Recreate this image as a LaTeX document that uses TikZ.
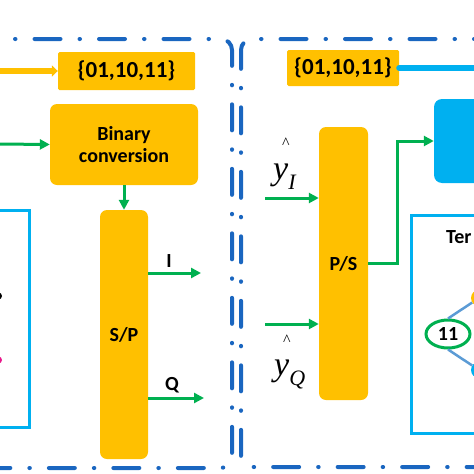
\documentclass[tikz,border=0pt]{standalone}
\usepackage{fontspec}
\setmainfont{Carlito}
\newfontfamily\tnr{Liberation Serif}
\usetikzlibrary{arrows.meta,shapes.geometric}
\definecolor{orng}{HTML}{FFC000}
\definecolor{grn}{HTML}{00B050}
\definecolor{cyn}{HTML}{00B0F0}
\definecolor{dblue}{HTML}{1A66C0}
\definecolor{steel}{HTML}{5B9BD5}
\definecolor{mag}{HTML}{E8178A}
\begin{document}
\begin{tikzpicture}[x=1pt,y=-1pt,
  frame/.style={draw=dblue, line width=4pt, line cap=round, rounded corners=11pt,
    dash pattern=on 26pt off 19pt on 0.5pt off 19pt},
  obox/.style={fill=orng, rounded corners=7pt, inner sep=0pt,
    font=\bfseries\fontsize{20}{23}\selectfont},
  setbox/.style={fill=orng, rounded corners=1.5pt, inner sep=0pt,
    font=\bfseries\fontsize{23}{26}\selectfont},
  garrow/.style={draw=grn, line width=3pt, -{Triangle[length=10pt,width=10pt]}},
  lbl/.style={font=\bfseries\fontsize{20}{23}\selectfont, inner sep=0pt},
  yhat/.style={font=\tnr\itshape\fontsize{34}{34}\selectfont, inner sep=0pt,
    text height=15pt, text depth=8pt},
  caret/.style={font=\tnr\fontsize{16}{16}\selectfont, inner sep=0pt},
  cframe/.style={draw=cyn, line width=3pt},
  tline/.style={draw=steel, line width=2.5pt}
]
\useasboundingbox (0,0) rectangle (474,474);
\clip (0,0) rectangle (474,474);

% dash-dot frames
\draw[frame] (-30,39) -- (232,39) -- (232,468) -- (-30,468);
\draw[frame] (500,39) -- (241,39) -- (241,467) -- (500,467);

% left side
\node[setbox, minimum width=137pt, minimum height=38pt] (setL) at (126.5,71) {\{01,10,11\}};
\node[obox, minimum width=148pt, minimum height=81pt, align=center] (bin) at (124,144.5) {Binary\\[-1pt]conversion};
\node[obox, minimum width=48pt, minimum height=249pt] (sp) at (124,334.5) {S/P};

\coordinate (oin) at (-2,71);
\draw[draw=orng, line width=6pt, -{Triangle[length=6pt,width=11pt]}] (oin) -- (setL.west);
\coordinate (gin) at (-2,144);
\draw[garrow] (gin) -- (bin.west);
\draw[garrow] (bin.south) -- (sp.north);
\coordinate (Iend) at (201,273);
\coordinate (Qend) at (204,398);
\draw[garrow] (sp.east |- Iend) -- (Iend);
\draw[garrow] (sp.east |- Qend) -- (Qend);
\node[lbl] (Ilbl) at (169,261) {I};
\node[lbl] (Qlbl) at (172,385) {Q};

\draw[cframe] (-20,210) rectangle (29,427);
\fill[black] (-1.5,296) circle (3.5pt);
\fill[mag] (-1.5,360) circle (3.5pt);

% right side
\node[setbox, minimum width=112pt, minimum height=36pt] (setR) at (343,68) {\{01,10,11\}};
\coordinate (cend) at (490,68);
\draw[draw=cyn, line width=6pt, line cap=round] (setR.east) -- (cend);

\node[fill=cyn, rounded corners=8pt, minimum width=70pt, minimum height=84pt, inner sep=0pt] (blk) at (469,141) {};
\node[obox, minimum width=49pt, minimum height=273pt] (ps) at (343.5,263.5) {P/S};

\coordinate (yIs) at (265,198);
\coordinate (yQs) at (265,324);
\draw[garrow] (yIs) -- (ps.west |- yIs);
\draw[garrow] (yQs) -- (ps.west |- yQs);
\node[caret] (cI) at (286,143) {\textasciicircum};
\node[yhat, anchor=west] (yI) at (273,176) {y\raisebox{-0.28em}{\fontsize{22}{22}\selectfont I}};
\node[caret] (cQ) at (287,340) {\textasciicircum};
\node[yhat, anchor=west] (yQ) at (274,372) {y\raisebox{-0.28em}{\fontsize{22}{22}\selectfont Q}};

\coordinate (bend1) at (397,263);
\coordinate (bend2) at (397,141);
\draw[garrow] (ps.east |- bend1) -- (bend1) -- (bend2) -- (blk.west);

\draw[cframe] (411,215) rectangle (500,433);
\node[lbl, anchor=west] (ter) at (446,237) {Ter};
\node[draw=grn, line width=3pt, ellipse, minimum width=44pt, minimum height=28pt, inner sep=0pt, lbl] (e11) at (448,334) {11};
\node[circle, fill=orng, minimum size=16pt, inner sep=0pt] (up) at (479,298) {};
\node[circle, fill=cyn, minimum size=16pt, inner sep=0pt] (dn) at (479,370) {};
\draw[tline] (e11.north) -- (up);
\draw[tline] (e11.south) -- (dn);
\end{tikzpicture}
\end{document}
